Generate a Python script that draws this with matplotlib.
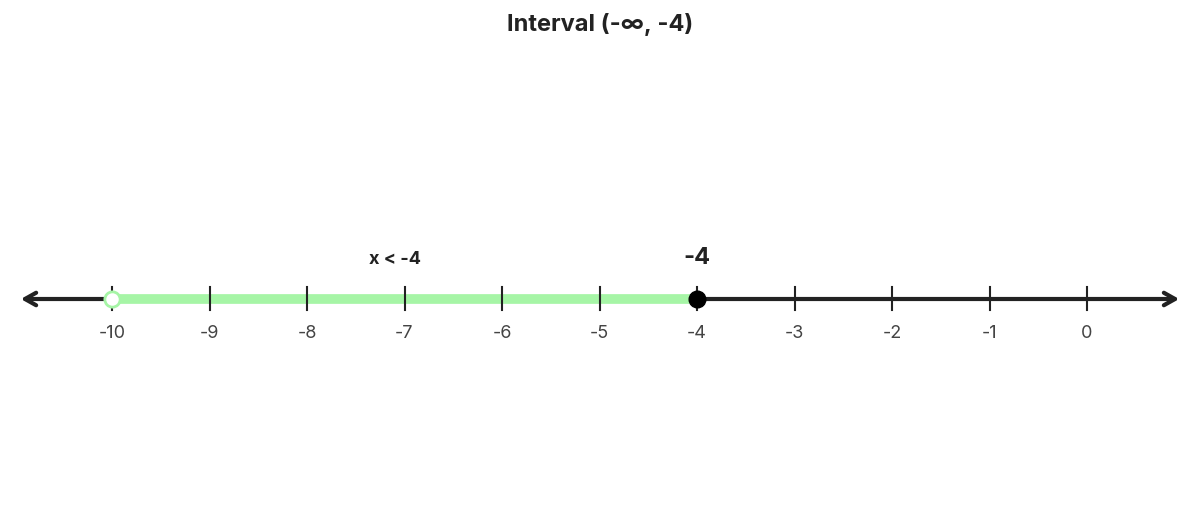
import matplotlib
matplotlib.use("Agg")
import matplotlib.pyplot as plt

ticks = list(range(-10, 1))
tick_labels = [str(t) for t in ticks]
bound = -4
interval_start = -10
title = "Interval (-∞, -4)"
label = "x < -4"

plt.rcParams['font.family'] = ['Inter', 'DejaVu Sans']
fig = plt.figure(figsize=(12, 5.3), dpi=100)
ax = fig.add_axes([0, 0, 1, 1])
ax.set_xlim(-10 - 112/97.5, -10 + 1088/97.5)
ax.set_ylim(530, 0)
ax.axis('off')

y = 299
left = -10 - 94/97.5
right = -10 + 1070/97.5
ax.annotate('', xy=(left, y), xytext=(bound, y),
            arrowprops=dict(arrowstyle='->,head_length=0.8,head_width=0.45', color='#222222', lw=3))
ax.annotate('', xy=(right, y), xytext=(bound, y),
            arrowprops=dict(arrowstyle='->,head_length=0.8,head_width=0.45', color='#222222', lw=3))
ax.plot([interval_start, bound], [y, y], color='#a6f5a6', lw=7, solid_capstyle='butt', zorder=3)
for t, lab in zip(ticks, tick_labels):
    ax.plot([t, t], [287, 310], color='#222222', lw=1.5, zorder=4)
    ax.text(t, 333, lab, ha='center', va='center', fontsize=13, color='#444444')
ax.plot([interval_start], [y], 'o', ms=11, mfc='white', mec='#a6f5a6', mew=2, zorder=5)
ax.plot([bound], [y], 'o', ms=12, color='black', zorder=5)
ax.text(bound, 258, str(bound), ha='center', va='center', fontsize=17, fontweight='bold', color='#222222')
ax.text(-7.1, 259, label, ha='center', va='center', fontsize=13, fontweight='bold', color='#222222')
ax.text(-10 + 488/97.5, 25, title, ha='center', va='center', fontsize=17, fontweight='bold', color='#222222')
fig.savefig('out.png', dpi=100)
